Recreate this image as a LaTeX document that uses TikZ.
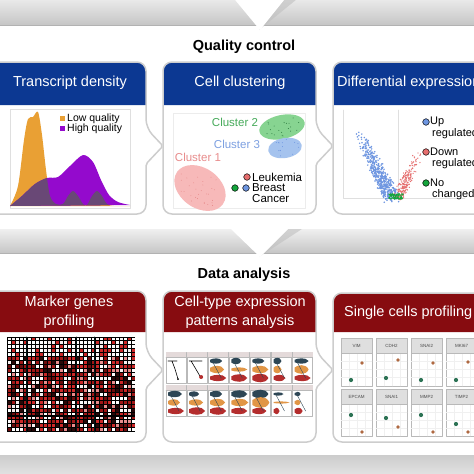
\documentclass[tikz,border=0pt]{standalone}
\usepackage{fontspec}
\setmainfont{Liberation Sans}
\usepackage{pgf,tikz}
\usetikzlibrary{arrows}
\definecolor{qqdtdd}{RGB}{12,56,146}
\definecolor{ddqqqq}{RGB}{135,12,16}
\definecolor{cccccc}{RGB}{205,205,205}
\definecolor{eeaadd}{RGB}{233,160,52}
\definecolor{ddqqff}{RGB}{148,10,205}
\definecolor{uuttuu}{RGB}{105,72,118}
\definecolor{ggccgg}{RGB}{135,212,145}
\definecolor{ggaagg}{RGB}{70,170,90}
\definecolor{qqttqq}{RGB}{40,120,60}
\definecolor{bbccff}{RGB}{165,195,238}
\definecolor{aabbff}{RGB}{125,160,225}
\definecolor{ffbbbb}{RGB}{247,185,185}
\definecolor{eeaaaa}{RGB}{232,140,140}
\definecolor{eettuu}{RGB}{230,110,110}
\definecolor{qqaaqq}{RGB}{20,165,60}
\definecolor{uubbee}{RGB}{110,150,225}
\definecolor{ttuuvv}{RGB}{45,70,85}
\definecolor{eebbtt}{RGB}{225,150,70}
\definecolor{bbttqq}{RGB}{180,45,45}
\definecolor{eeddee}{RGB}{228,218,218}
\definecolor{qqvvuu}{RGB}{45,115,85}
\definecolor{bbuutt}{RGB}{175,105,65}
\definecolor{hma}{RGB}{255,255,255}
\definecolor{hmb}{RGB}{248,240,240}
\definecolor{hmc}{RGB}{225,205,205}
\definecolor{hmd}{RGB}{205,40,40}
\definecolor{hme}{RGB}{160,22,22}
\definecolor{hmf}{RGB}{105,12,12}
\definecolor{hmg}{RGB}{40,8,8}
\definecolor{hmh}{RGB}{232,140,140}
% gray band with downward notch
\newcommand{\qband}[3]{%
  \shade[top color=gray!12,bottom color=gray!45] (-5,#1) rectangle (480,#2);
  \draw[gray!60,line width=0.8pt] (-5,#2) -- (480,#2);
  \fill[gray!50,opacity=.6] (259,#3) -- (288,#1) -- (302,#1) -- cycle;
  \fill[white] (231,#1) -- (260,#3) -- (288,#1) -- cycle;
}
% panel: left, right, top, header bottom, bottom, chevron y, header colour
\newcommand{\qpanel}[7]{%
  \fill[white,rounded corners=9pt] (#1,#5) -- (#1,#3) -- (#2,#3) -- ({#2},{#6-18}) [rounded corners=2pt] -- ({#2+17},#6) -- ({#2},{#6+18}) [rounded corners=9pt] -- (#2,#5) -- cycle;
  \fill[#7] (#1,#4) [rounded corners=9pt] -- (#1,#3) -- (#2,#3) [sharp corners] -- (#2,#4) -- cycle;
  \draw[cccccc,line width=1.5pt,rounded corners=9pt] (#1,#5) -- (#1,#3) -- (#2,#3) -- ({#2},{#6-18}) [rounded corners=2pt] -- ({#2+17},#6) -- ({#2},{#6+18}) [rounded corners=9pt] -- (#2,#5) -- cycle;
}
% horizontal violin: colour, y, length, half width
\newcommand{\vio}[4]{%
  \fill[#1] (2,{#2-0.5*#4}) .. controls ({2+0.2*#3},{#2-1.1*#4}) and ({2+0.8*#3},{#2-1.6*#4}) .. ({2+#3},#2) .. controls ({2+0.8*#3},{#2+1.6*#4}) and ({2+0.2*#3},{#2+1.1*#4}) .. (2,{#2+0.5*#4}) -- cycle;
}
\tikzset{
  ttl/.style={font=\bfseries\fontsize{14.5}{16}\selectfont,inner sep=0pt},
  hdrtxt/.style={white,font=\fontsize{14.5}{19}\selectfont,inner sep=0pt,align=center},
  legtxt/.style={font=\fontsize{11}{11}\selectfont,inner sep=0pt,anchor=west},
  cltxt/.style={font=\fontsize{11.5}{12}\selectfont,inner sep=0pt},
  sctxt/.style={font=\fontsize{4.5}{5}\selectfont,inner sep=0pt,text=gray!60!black}
}
\begin{document}
\begin{tikzpicture}[line cap=round,line join=round,x=1pt,y=-1pt]
\useasboundingbox (0,0) rectangle (474,474);
\clip(0,0) rectangle (474,474);
\pgfmathsetseed{7}
% bands
\qband{-5}{25}{30}
\qband{229}{253}{257}
\shade[top color=gray!40,bottom color=gray!18] (-5,455) rectangle (480,480);
\node[ttl] (qc) at (244,47) {Quality control};
\node[ttl] (da) at (244,275) {Data analysis};
% quality control panels
\qpanel{-20}{146}{62}{105}{214}{146}{qqdtdd}
\qpanel{163}{316}{62}{105}{214}{146}{qqdtdd}
\qpanel{333}{520}{62}{105}{214}{146}{qqdtdd}
\node[hdrtxt] (tdens) at (70,83) {Transcript density};
\node[hdrtxt] (cclus) at (240,83) {Cell clustering};
\node[hdrtxt,anchor=west] (dexpr) at (337,83) {Differential expression};
% data analysis panels
\qpanel{-20}{146}{291}{332}{442}{370}{ddqqqq}
\qpanel{163}{316}{291}{332}{442}{370}{ddqqqq}
\qpanel{333}{520}{293}{332}{442}{370}{ddqqqq}
\node[hdrtxt] (mgp) at (69,312) {Marker genes\\profiling};
\node[hdrtxt] (ctep) at (240,312) {Cell-type expression\\patterns analysis};
\node[hdrtxt,anchor=west] (scp) at (344,313) {Single cells profiling};

% transcript density plot
\draw[gray!25] (10,109) rectangle (130,208);
\fill[eeaadd] plot[smooth] coordinates {(10,206) (18,186) (24,140) (28,119) (33,117) (38,112) (42,135) (46,170) (50,196) (56,204) (63,204) (68,196) (73,191) (78,196) (83,204) (87,205) (92,196) (97,191) (102,196) (107,204) (114,206) (130,206)} -- cycle;
\fill[ddqqff] plot[smooth] coordinates {(10,206) (22,196) (35,184) (47,178) (58,177) (70,166) (83,155) (93,162) (101,180) (109,195) (118,202) (130,205)} -- cycle;
\begin{scope}
\clip plot[smooth] coordinates {(10,206) (18,186) (24,140) (28,119) (33,117) (38,112) (42,135) (46,170) (50,196) (56,204) (63,204) (68,196) (73,191) (78,196) (83,204) (87,205) (92,196) (97,191) (102,196) (107,204) (114,206) (130,206)} -- cycle;
\fill[uuttuu] plot[smooth] coordinates {(10,206) (22,196) (35,184) (47,178) (58,177) (70,166) (83,155) (93,162) (101,180) (109,195) (118,202) (130,205)} -- cycle;
\end{scope}
\fill[eeaadd] (60,116) rectangle (65,121);
\fill[ddqqff] (60,125.5) rectangle (65,130.5);
\node[legtxt,font=\fontsize{10.5}{11}\selectfont] (lowq) at (67,119) {Low quality};
\node[legtxt,font=\fontsize{10.5}{11}\selectfont] (highq) at (67,128.5) {High quality};

% cell clustering plot
\draw[gray!15] (173,113) rectangle (305,208);
\begin{scope}[shift={(282,127)},rotate=12]
\fill[ggccgg] (0,0) ellipse [x radius=23pt,y radius=12pt];
\foreach \i in {1,...,20}{
  \pgfmathsetmacro{\a}{360*rnd}
  \pgfmathsetmacro{\q}{0.85*sqrt(rnd)}
  \fill[qqttqq] ({23*\q*cos(\a)},{12*\q*sin(\a)}) circle (0.5pt);
}
\end{scope}
\begin{scope}[shift={(285,148)},rotate=10]
\fill[bbccff] (0,0) ellipse [x radius=17pt,y radius=10pt];
\foreach \i in {1,...,14}{
  \pgfmathsetmacro{\a}{360*rnd}
  \pgfmathsetmacro{\q}{0.85*sqrt(rnd)}
  \fill[uubbee] ({17*\q*cos(\a)},{10*\q*sin(\a)}) circle (0.5pt);
}
\end{scope}
\begin{scope}[shift={(200,188)},rotate=-35]
\fill[ffbbbb] (0,0) ellipse [x radius=28pt,y radius=20pt];
\foreach \i in {1,...,30}{
  \pgfmathsetmacro{\a}{360*rnd}
  \pgfmathsetmacro{\q}{0.85*sqrt(rnd)}
  \fill[eeaaaa] ({28*\q*cos(\a)},{20*\q*sin(\a)}) circle (0.5pt);
}
\end{scope}
\node[cltxt,text=ggaagg] (cl2) at (235,122) {Cluster 2};
\node[cltxt,text=aabbff] (cl3) at (237,144) {Cluster 3};
\node[cltxt,text=eeaaaa] (cl1) at (198,157) {Cluster 1};
\draw[black,fill=eettuu,line width=0.5pt] (247,177) circle (3.3pt);
\draw[black,fill=qqaaqq,line width=0.5pt] (235,188) circle (3.3pt);
\draw[black,fill=uubbee,line width=0.5pt] (246,188) circle (3.3pt);
\node[cltxt,anchor=west] (leuk) at (252,177) {Leukemia};
\node[cltxt,anchor=west] (brst) at (252,188) {Breast};
\node[cltxt,anchor=west] (canc) at (252,199) {Cancer};

% volcano plot
\draw[gray!25] (343,110) -- (343,198) -- (465,198);
\draw[gray!25] (398,110) -- (398,198);
\foreach \i in {1,...,480}{
  \pgfmathsetmacro{\t}{sqrt(rnd)}
  \pgfmathsetmacro{\px}{356+36*\t+(rnd-0.5)*(8+8*\t)}
  \pgfmathsetmacro{\py}{128+70*\t+(rnd-0.5)*9}
  \fill[uubbee] (\px,\py) circle (0.85pt);
}
\foreach \i in {1,...,200}{
  \pgfmathsetmacro{\t}{sqrt(rnd)}
  \pgfmathsetmacro{\px}{420-22*\t+(rnd-0.5)*10}
  \pgfmathsetmacro{\py}{150+48*\t+(rnd-0.5)*8}
  \fill[eettuu] (\px,\py) circle (0.7pt);
}
\foreach \i in {1,...,60}{
  \fill[qqaaqq] ({389+14*rnd},{194+5*rnd}) circle (0.9pt);
}
\draw[black,fill=uubbee,line width=0.5pt] (426,122) circle (3.3pt);
\draw[black,fill=eettuu,line width=0.5pt] (426,152) circle (3.3pt);
\draw[black,fill=qqaaqq,line width=0.5pt] (426,183) circle (3.3pt);
\node[legtxt] (up) at (430,122) {Up};
\node[legtxt] (upr) at (432,134) {regulated};
\node[legtxt] (down) at (430,152) {Down};
\node[legtxt] (downr) at (432,164) {regulated};
\node[legtxt] (noch) at (430,183) {No};
\node[legtxt] (nochr) at (432,195) {changed};

% marker genes heatmap
\begin{scope}[shift={(7,337)}]
\fill[black] (0,0) rectangle (128,95);
\foreach \r in {0,...,23}{
  \foreach \c in {0,...,31}{
    \pgfmathtruncatemacro{\kmax}{\r<5 ? 4 : 10}
    \pgfmathrandominteger{\k}{1}{\kmax}
    \pgfmathparse{{"hma","hma","hmb","hmd","hmd","hme","hme","hmf","hmg","hmh"}[\k-1]}
    \fill[\pgfmathresult] ({\c*4+0.5},{\r*3.95+0.5}) rectangle ++(3.1,2.9);
  }
}
\draw[black!85!teal,line width=0.6pt] (19,0) -- (19,95) (69,0) -- (69,95) (87,0) -- (87,95);
\end{scope}

% violin panels
\foreach \r in {0,1}{
  \foreach \i in {0,...,6}{
    \begin{scope}[shift={({166+21.1*\i},{352+33*\r})}]
    \draw[gray!55,fill=white,line width=0.4pt] (0,0) rectangle (20,31);
    \fill[eeddee] (0,0) rectangle (20,5);
    \draw[gray!55,line width=0.4pt] (0,5) -- (20,5);
    \end{scope}
  }
}
\begin{scope}[shift={(166,352)}]
\draw[black,line width=0.6pt] (2,9) -- (11,9) (6,9) -- (9,17) -- (12,27);
\fill[black] (12,27) circle (1pt);
\end{scope}
\begin{scope}[shift={(187.1,352)}]
\draw[black,line width=0.6pt] (2,9) -- (15,9) (4,9) -- (14,26);
\fill[bbttqq] (14,25) circle (2pt);
\end{scope}
\foreach \i/\la/\ha/\lb/\hb/\lc/\hc in {2/12/2.5/14/3.5/16/3,3/10/3/16/2/16/3.5,4/12/2.5/16/3.5/16/4,5/8/3/8/3.5/12/3,6/14/2.5/14/4/16/3}{
  \begin{scope}[shift={({166+21.1*\i},352)}]
  \vio{ttuuvv}{9}{\la}{\ha}
  \vio{eebbtt}{17.5}{\lb}{\hb}
  \vio{bbttqq}{26}{\lc}{\hc}
  \draw[ttuuvv,line width=0.4pt] (4,9) -- (13,26);
  \end{scope}
}
\foreach \i/\la/\ha/\lb/\hb/\lc/\hc in {0/14/3/12/3/16/3,1/10/2.5/14/3/16/3.5,2/12/3/15/3.5/16/3.5,3/16/3.5/17/3.5/16/3,4/16/4/17/5/14/3,5/10/1.5/16/1/6/3,6/6/2/6/2.5/8/3}{
  \begin{scope}[shift={({166+21.1*\i},385)}]
  \vio{ttuuvv}{9}{\la}{\ha}
  \vio{eebbtt}{17.5}{\lb}{\hb}
  \vio{bbttqq}{26}{\lc}{\hc}
  \draw[ttuuvv,line width=0.4pt] (4,9) -- (13,26);
  \end{scope}
}

% single cell panels
\foreach \i/\gn/\gx/\gy/\bx/\by in {0/VIM/10/27/21/10,1/CDH2/10/25/22/7,2/SNAI2/10/27/22/10,3/MKI67/10/27/22/9}{
  \begin{scope}[shift={({341+35*\i},338)}]
  \draw[gray!55,fill=white,line width=0.5pt] (0,0) rectangle (31,48);
  \draw[gray!12,line width=0.3pt] (0,23) -- (31,23) (0,31) -- (31,31) (0,39) -- (31,39) (8,15) -- (8,48) (16,15) -- (16,48) (24,15) -- (24,48);
  \draw[gray!55,fill=gray!25,line width=0.5pt] (0,0) rectangle (31,15);
  \node[sctxt] (sc\gn) at (15.5,7.5) {\gn};
  \fill[qqvvuu] (\gx,{15+\gy}) circle (2.1pt);
  \fill[bbuutt] (\bx,{15+\by}) circle (1.9pt);
  \end{scope}
}
\foreach \i/\gn/\gx/\gy/\bx/\by in {0/EPCAM/10/11/21/28,1/SNAI1/10/14/22/23,2/MMP2/10/11/22/28,3/TIMP2/10/20/22/28}{
  \begin{scope}[shift={({341+35*\i},389)}]
  \draw[gray!55,fill=white,line width=0.5pt] (0,0) rectangle (31,47);
  \draw[gray!12,line width=0.3pt] (0,23) -- (31,23) (0,31) -- (31,31) (0,39) -- (31,39) (8,15) -- (8,47) (16,15) -- (16,47) (24,15) -- (24,47);
  \draw[gray!55,fill=gray!25,line width=0.5pt] (0,0) rectangle (31,15);
  \node[sctxt] (sc\gn) at (15.5,7.5) {\gn};
  \fill[qqvvuu] (\gx,{15+\gy}) circle (2.1pt);
  \fill[bbuutt] (\bx,{15+\by}) circle (1.9pt);
  \end{scope}
}
\end{tikzpicture}
\end{document}
